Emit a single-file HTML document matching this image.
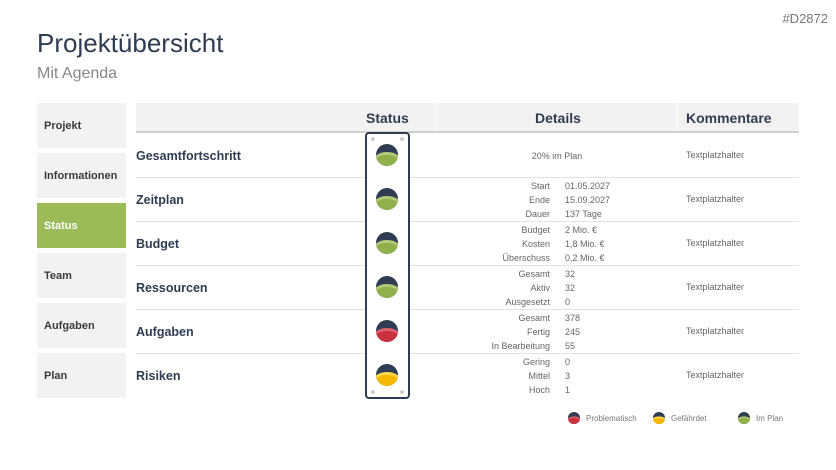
<!DOCTYPE html>
<html><head><meta charset="utf-8"><style>
body{margin:0;width:836px;height:470px;background:#fff;font-family:"Liberation Sans",sans-serif;position:relative;overflow:hidden}
.a{position:absolute}
.nav{position:absolute;left:37px;width:89px;height:45px;background:#f2f2f2;color:#3a3a3a;font-size:11px;font-weight:bold;line-height:46px;padding-left:7px;box-sizing:border-box}
.rt{position:absolute;left:136px;font-size:12.5px;font-weight:bold;color:#2e3d52}
.line{position:absolute;left:136px;width:663px;height:1px;background:#e3e3e3}
.d{position:absolute;font-size:9px;color:#666;line-height:14px}
.lab{right:286px;text-align:right}
.val{left:565px}
.c{position:absolute;left:686px;font-size:9px;color:#666}
</style></head><body>
<div class="a" style="right:8px;top:11px;font-size:13px;color:#777">#D2872</div>
<div class="a" style="left:37px;top:28px;font-size:26px;color:#2e3d52">Projektübersicht</div>
<div class="a" style="left:37px;top:65px;font-size:16px;color:#888">Mit Agenda</div>

<div class="nav" style="top:103px">Projekt</div>
<div class="nav" style="top:153px">Informationen</div>
<div class="nav" style="top:203px;background:#9bbb59;color:#fff">Status</div>
<div class="nav" style="top:253px">Team</div>
<div class="nav" style="top:303px">Aufgaben</div>
<div class="nav" style="top:353px">Plan</div>

<div class="a" style="left:136px;top:103px;width:663px;height:29px;background:#f2f2f2"></div>
<div class="a" style="left:435px;top:103px;width:1px;height:29px;background:#fff"></div>
<div class="a" style="left:677px;top:103px;width:1px;height:29px;background:#fff"></div>
<div class="a" style="left:136px;top:131px;width:663px;height:2px;background:#d0d0d0"></div>
<div class="a" style="left:366px;top:110px;font-size:14px;font-weight:bold;color:#2e3d52">Status</div>
<div class="a" style="left:535px;top:110px;font-size:14px;font-weight:bold;color:#2e3d52">Details</div>
<div class="a" style="left:686px;top:110px;font-size:14px;font-weight:bold;color:#2e3d52">Kommentare</div>

<div class="line" style="top:177px"></div>
<div class="line" style="top:221px"></div>
<div class="line" style="top:265px"></div>
<div class="line" style="top:309px"></div>
<div class="line" style="top:353px"></div>

<div class="rt" style="top:149px">Gesamtfortschritt</div>
<div class="rt" style="top:193px">Zeitplan</div>
<div class="rt" style="top:237px">Budget</div>
<div class="rt" style="top:281px">Ressourcen</div>
<div class="rt" style="top:325px">Aufgaben</div>
<div class="rt" style="top:369px">Risiken</div>

<div class="d" style="left:500px;width:114px;text-align:center;top:149px">20% im Plan</div>
<div class="d lab" style="top:179px">Start<br>Ende<br>Dauer</div>
<div class="d val" style="top:179px">01.05.2027<br>15.09.2027<br>137 Tage</div>
<div class="d lab" style="top:223px">Budget<br>Kosten<br>Überschuss</div>
<div class="d val" style="top:223px">2 Mio. €<br>1,8 Mio. €<br>0,2 Mio. €</div>
<div class="d lab" style="top:267px">Gesamt<br>Aktiv<br>Ausgesetzt</div>
<div class="d val" style="top:267px">32<br>32<br>0</div>
<div class="d lab" style="top:311px">Gesamt<br>Fertig<br>In Bearbeitung</div>
<div class="d val" style="top:311px">378<br>245<br>55</div>
<div class="d lab" style="top:355px">Gering<br>Mittel<br>Hoch</div>
<div class="d val" style="top:355px">0<br>3<br>1</div>

<div class="c" style="top:150px">Textplatzhalter</div>
<div class="c" style="top:194px">Textplatzhalter</div>
<div class="c" style="top:238px">Textplatzhalter</div>
<div class="c" style="top:282px">Textplatzhalter</div>
<div class="c" style="top:326px">Textplatzhalter</div>
<div class="c" style="top:370px">Textplatzhalter</div>

<svg class="a" style="left:0;top:0" width="836" height="470">
<defs>
<clipPath id="cl"><circle r="11"/></clipPath>
</defs>
<rect x="366" y="133" width="43" height="265" rx="3" fill="#fff" stroke="#2e3d52" stroke-width="2"/>
<circle cx="373" cy="139" r="2" fill="#ccc"/><circle cx="402" cy="139" r="2" fill="#ccc"/>
<circle cx="373" cy="392" r="2" fill="#ccc"/><circle cx="402" cy="392" r="2" fill="#ccc"/>
<g transform="translate(387,155)"><circle r="11" fill="#2e3d52"/><g clip-path="url(#cl)"><ellipse cy="6" rx="14" ry="9" fill="#b3c97a"/><ellipse cy="9" rx="14" ry="9" fill="#8fb04a"/></g></g>
<g transform="translate(387,199)"><circle r="11" fill="#2e3d52"/><g clip-path="url(#cl)"><ellipse cy="6" rx="14" ry="9" fill="#b3c97a"/><ellipse cy="9" rx="14" ry="9" fill="#8fb04a"/></g></g>
<g transform="translate(387,243)"><circle r="11" fill="#2e3d52"/><g clip-path="url(#cl)"><ellipse cy="6" rx="14" ry="9" fill="#b3c97a"/><ellipse cy="9" rx="14" ry="9" fill="#8fb04a"/></g></g>
<g transform="translate(387,287)"><circle r="11" fill="#2e3d52"/><g clip-path="url(#cl)"><ellipse cy="6" rx="14" ry="9" fill="#b3c97a"/><ellipse cy="9" rx="14" ry="9" fill="#8fb04a"/></g></g>
<g transform="translate(387,331)"><circle r="11" fill="#2e3d52"/><g clip-path="url(#cl)"><ellipse cy="6" rx="14" ry="9" fill="#e06070"/><ellipse cy="9" rx="14" ry="9" fill="#c8323f"/></g></g>
<g transform="translate(387,375)"><circle r="11" fill="#2e3d52"/><g clip-path="url(#cl)"><ellipse cy="6" rx="14" ry="9" fill="#ffd84d"/><ellipse cy="9" rx="14" ry="9" fill="#f5b800"/></g></g>

<g transform="translate(574,418) scale(0.55)"><circle r="11" fill="#2e3d52"/><g clip-path="url(#cl)"><ellipse cy="6" rx="14" ry="9" fill="#e06070"/><ellipse cy="9" rx="14" ry="9" fill="#c8323f"/></g></g>
<g transform="translate(659,418) scale(0.55)"><circle r="11" fill="#2e3d52"/><g clip-path="url(#cl)"><ellipse cy="6" rx="14" ry="9" fill="#ffd84d"/><ellipse cy="9" rx="14" ry="9" fill="#f5b800"/></g></g>
<g transform="translate(744,418) scale(0.55)"><circle r="11" fill="#2e3d52"/><g clip-path="url(#cl)"><ellipse cy="6" rx="14" ry="9" fill="#b3c97a"/><ellipse cy="9" rx="14" ry="9" fill="#8fb04a"/></g></g>
<g font-family="Liberation Sans, sans-serif" font-size="8" fill="#777">
<text x="586" y="421">Problematisch</text>
<text x="671" y="421">Gefährdet</text>
<text x="756" y="421">Im Plan</text>
</g>
</svg>
</body></html>
